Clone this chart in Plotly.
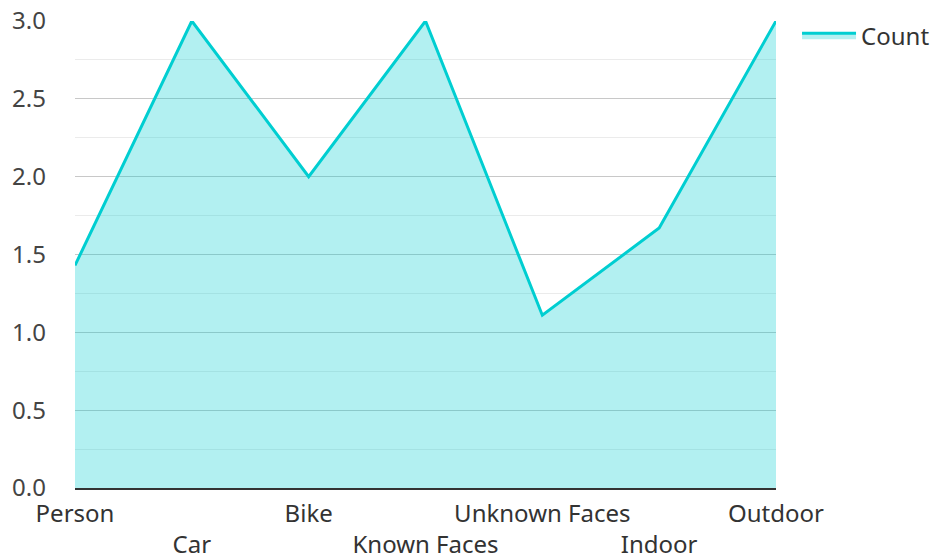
import plotly.graph_objects as go

categories = ["Person", "Car", "Bike", "Known Faces", "Unknown Faces", "Indoor", "Outdoor"]
counts = [1.43, 3, 2, 3, 1.11, 1.67, 3]
y_ticks = [0, 0.5, 1.0, 1.5, 2.0, 2.5, 3.0]

tick_text = [c if i % 2 == 0 else "<br>" + c for i, c in enumerate(categories)]

fig = go.Figure()
fig.add_trace(go.Scatter(
    x=categories, y=counts, name="Count",
    mode="lines", line=dict(color="#00CED1", width=3),
    fill="tozeroy", fillcolor="rgba(0,206,209,0.3)",
))

font_family = "Noto Sans, Open Sans, sans-serif"
fig.update_layout(
    width=934, height=560,
    margin=dict(l=75, r=158, t=21, b=72, autoexpand=False),
    paper_bgcolor="white", plot_bgcolor="white",
    font=dict(family=font_family, size=24, color="#444"),
    showlegend=True,
    legend=dict(x=1.03, xanchor="left", y=1.017, yanchor="top", itemwidth=54,
                font=dict(size=24, color="#333"), bgcolor="rgba(0,0,0,0)"),
    xaxis=dict(
        type="category", range=[0, 6], showgrid=False,
        tickmode="array", tickvals=categories, ticktext=tick_text,
        tickangle=0, automargin=False,
        showline=True, linecolor="#333", linewidth=2,
        ticks="", ticklabelstandoff=3, zeroline=False,
        tickfont=dict(size=24, color="#333"),
    ),
    yaxis=dict(
        range=[0, 3], tickmode="array", tickvals=y_ticks, tickformat=".1f",
        automargin=False,
        showgrid=True, gridcolor="#c8c8c8", gridwidth=1,
        minor=dict(dtick=0.25, showgrid=True, gridcolor="#ebebeb", gridwidth=1),
        zeroline=False, showline=False, ticks="", ticklabelstandoff=28,
        tickfont=dict(size=24, color="#444"),
    ),
)

fig.write_html("out.html", config={"displayModeBar": False},
               post_script="document.body.style.margin='0';")
